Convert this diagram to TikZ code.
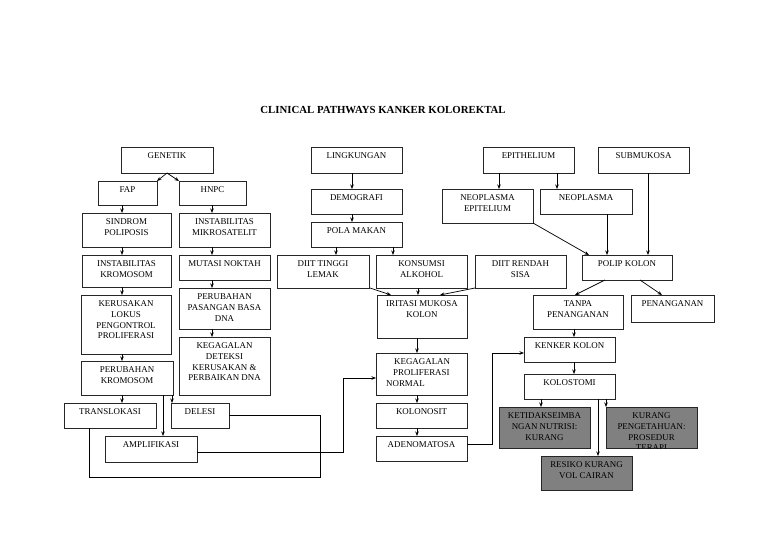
\documentclass[tikz,border=0pt]{standalone}
\usepackage{fontspec}
\setmainfont{Liberation Serif}
\usetikzlibrary{arrows.meta}
\tikzset{
  box/.style={draw=black!85, line width=0.9pt, anchor=north west, inner sep=0pt, outer sep=0pt},
  gbox/.style={box, fill=black!50},
  txt/.style={anchor=north, align=center, font=\fontsize{8.9}{10.8}\selectfont, inner sep=0pt},
  arr/.style={-{Stealth[length=4.5pt,width=3.5pt]}, line width=0.7pt},
  ln/.style={line width=0.7pt}
}
\newcommand\mybox[7][box]{%
  \pgfmathsetmacro\mybw{#5-#3}%
  \pgfmathsetmacro\mybh{#6-#4}%
  \node[#1, minimum width=\mybw pt, minimum height=\mybh pt] (#2) at (#3,#4) {};%
  \node[txt] (#2t) at ([yshift=-5.5pt]#2.north) {#7};%
}
\newcommand\vto[3]{\draw[arr] (#1,0 |- #2.south) -- (#1,0 |- #3.north);}
\begin{document}
\begin{tikzpicture}[x=1pt,y=-1pt]
\useasboundingbox (0,0) rectangle (768,543);
\node[font=\bfseries\fontsize{10.8}{12}\selectfont, inner sep=0pt] (title) at (383,110) {CLINICAL PATHWAYS KANKER KOLOREKTAL};

% left column
\mybox{gen}{121}{147}{213}{173}{GENETIK}
\mybox{fap}{98}{181}{157}{205}{FAP}
\mybox{hnpc}{179}{181}{246}{205}{HNPC}
\mybox{sind}{82}{213}{171}{247}{SINDROM\\POLIPOSIS}
\mybox{mikro}{179}{213}{270}{247}{INSTABILITAS\\MIKROSATELIT}
\mybox{krom}{82}{255}{171}{287}{INSTABILITAS\\KROMOSOM}
\mybox{mut}{179}{255}{270}{280}{MUTASI NOKTAH}
\mybox{kerus}{81}{295}{171}{354}{KERUSAKAN\\LOKUS\\PENGONTROL\\PROLIFERASI}
\mybox{perub}{179}{288}{270}{329}{PERUBAHAN\\PASANGAN BASA\\DNA}
\mybox{keg}{179}{337}{270}{395}{KEGAGALAN\\DETEKSI\\KERUSAKAN \&\\PERBAIKAN DNA}
\mybox{pkrom}{81}{361}{173}{395}{PERUBAHAN\\KROMOSOM}
\mybox{trans}{64}{403}{156}{428}{TRANSLOKASI}
\mybox{del}{171}{403}{229}{428}{DELESI}
\mybox{ampl}{105}{436}{197}{462}{AMPLIFIKASI}

% middle column
\mybox{ling}{311}{147}{402}{173}{LINGKUNGAN}
\mybox{demo}{311}{189}{402}{214}{DEMOGRAFI}
\mybox{pola}{311}{222}{402}{247}{POLA MAKAN}
\mybox{tinggi}{277}{255}{369}{288}{DIIT TINGGI\\LEMAK}
\mybox{kons}{376}{255}{467}{288}{KONSUMSI\\ALKOHOL}
\mybox{rendah}{475}{255}{566}{288}{DIIT RENDAH\\SISA}
\mybox{irit}{377}{295}{467}{338}{IRITASI MUKOSA\\KOLON}
\mybox{kpn}{376}{353}{467}{395}{}
\node[txt, anchor=north west, align=left] (kpnt) at (386,358.5) {\hspace*{8pt}KEGAGALAN\\\hspace*{7pt}PROLIFERASI\\NORMAL};
\mybox{kolon}{376}{403}{467}{428}{KOLONOSIT}
\mybox{adeno}{376}{436}{467}{461}{ADENOMATOSA}

% right column
\mybox{epi}{483}{147}{574}{173}{EPITHELIUM}
\mybox{sub}{598}{147}{689}{173}{SUBMUKOSA}
\mybox{neoe}{442}{189}{533}{223}{NEOPLASMA\\EPITELIUM}
\mybox{neo}{540}{189}{632}{214}{NEOPLASMA}
\mybox{polip}{582}{255}{672}{280}{POLIP KOLON}
\mybox{tanpa}{533}{295}{623}{329}{TANPA\\PENANGANAN}
\mybox{pen}{631}{295}{714}{322}{PENANGANAN}
\mybox{kenker}{524}{337}{615}{362}{KENKER KOLON}
\mybox{kolos}{524}{374}{615}{399}{KOLOSTOMI}
\mybox[gbox]{ketid}{499}{407}{590}{448}{KETIDAKSEIMBA\\NGAN NUTRISI:\\KURANG}
\mybox[gbox]{kurang}{606}{407}{697}{448}{}
\begin{scope}
\clip (kurang.north west) rectangle (kurang.south east);
\node[txt] (kurangt) at ([yshift=-5.5pt]kurang.north) {KURANG\\PENGETAHUAN:\\PROSEDUR\\TERAPI};
\end{scope}
\mybox[gbox]{resiko}{541}{456}{632}{490}{RESIKO KURANG\\VOL CAIRAN}

% connectors left
\draw[arr] (gen.south) -- (fap.north east);
\draw[arr] (gen.south) -- (hnpc.north west);
\vto{122}{fap}{sind}
\vto{122}{sind}{krom}
\vto{122}{krom}{kerus}
\vto{122}{kerus}{pkrom}
\vto{122}{pkrom}{trans}
\vto{163}{pkrom}{ampl}
\vto{172}{pkrom}{del}
\vto{212}{hnpc}{mikro}
\vto{212}{mikro}{mut}
\vto{212}{mut}{perub}
\vto{212}{perub}{keg}
\coordinate (c1) at (320,415);
\coordinate (c2) at (320,477);
\coordinate (c3) at (89,477);
\draw[ln] (del.east |- c1) -- (c1) -- (c2) -- (c3) -- (c3 |- trans.south);
\coordinate (c4) at (343,452);
\coordinate (c5) at (343,378);
\draw[arr] (ampl.east |- c4) -- (c4) -- (c5) -- (c5 -| kpn.west);

% connectors middle
\vto{352}{ling}{demo}
\vto{352}{demo}{pola}
\vto{336}{pola}{tinggi}
\vto{393}{pola}{kons}
\vto{418}{kons}{irit}
\draw[arr] (370,0 |- tinggi.south) -- (391,0 |- irit.north);
\draw[arr] (475,0 |- rendah.south) -- (440,0 |- irit.north);
\vto{417}{irit}{kpn}
\vto{417}{kpn}{kolon}
\vto{417}{kolon}{adeno}
\coordinate (c6) at (492,444);
\coordinate (c7) at (492,353);
\draw[arr] (adeno.east |- c6) -- (c6) -- (c7) -- (c7 -| kenker.west);

% connectors right
\vto{499}{epi}{neoe}
\vto{557}{epi}{neo}
\draw[arr] (neoe.south east) -- (589,0 |- polip.north);
\vto{607}{neo}{polip}
\vto{648}{sub}{polip}
\draw[arr] (605,0 |- polip.south) -- (575,0 |- tanpa.north);
\draw[arr] (640,0 |- polip.south) -- (662,0 |- pen.north);
\vto{574}{tanpa}{kenker}
\vto{574}{kenker}{kolos}
\vto{541}{kolos}{ketid}
\vto{606}{kolos}{kurang}
\vto{598}{kolos}{resiko}
\end{tikzpicture}
\end{document}
